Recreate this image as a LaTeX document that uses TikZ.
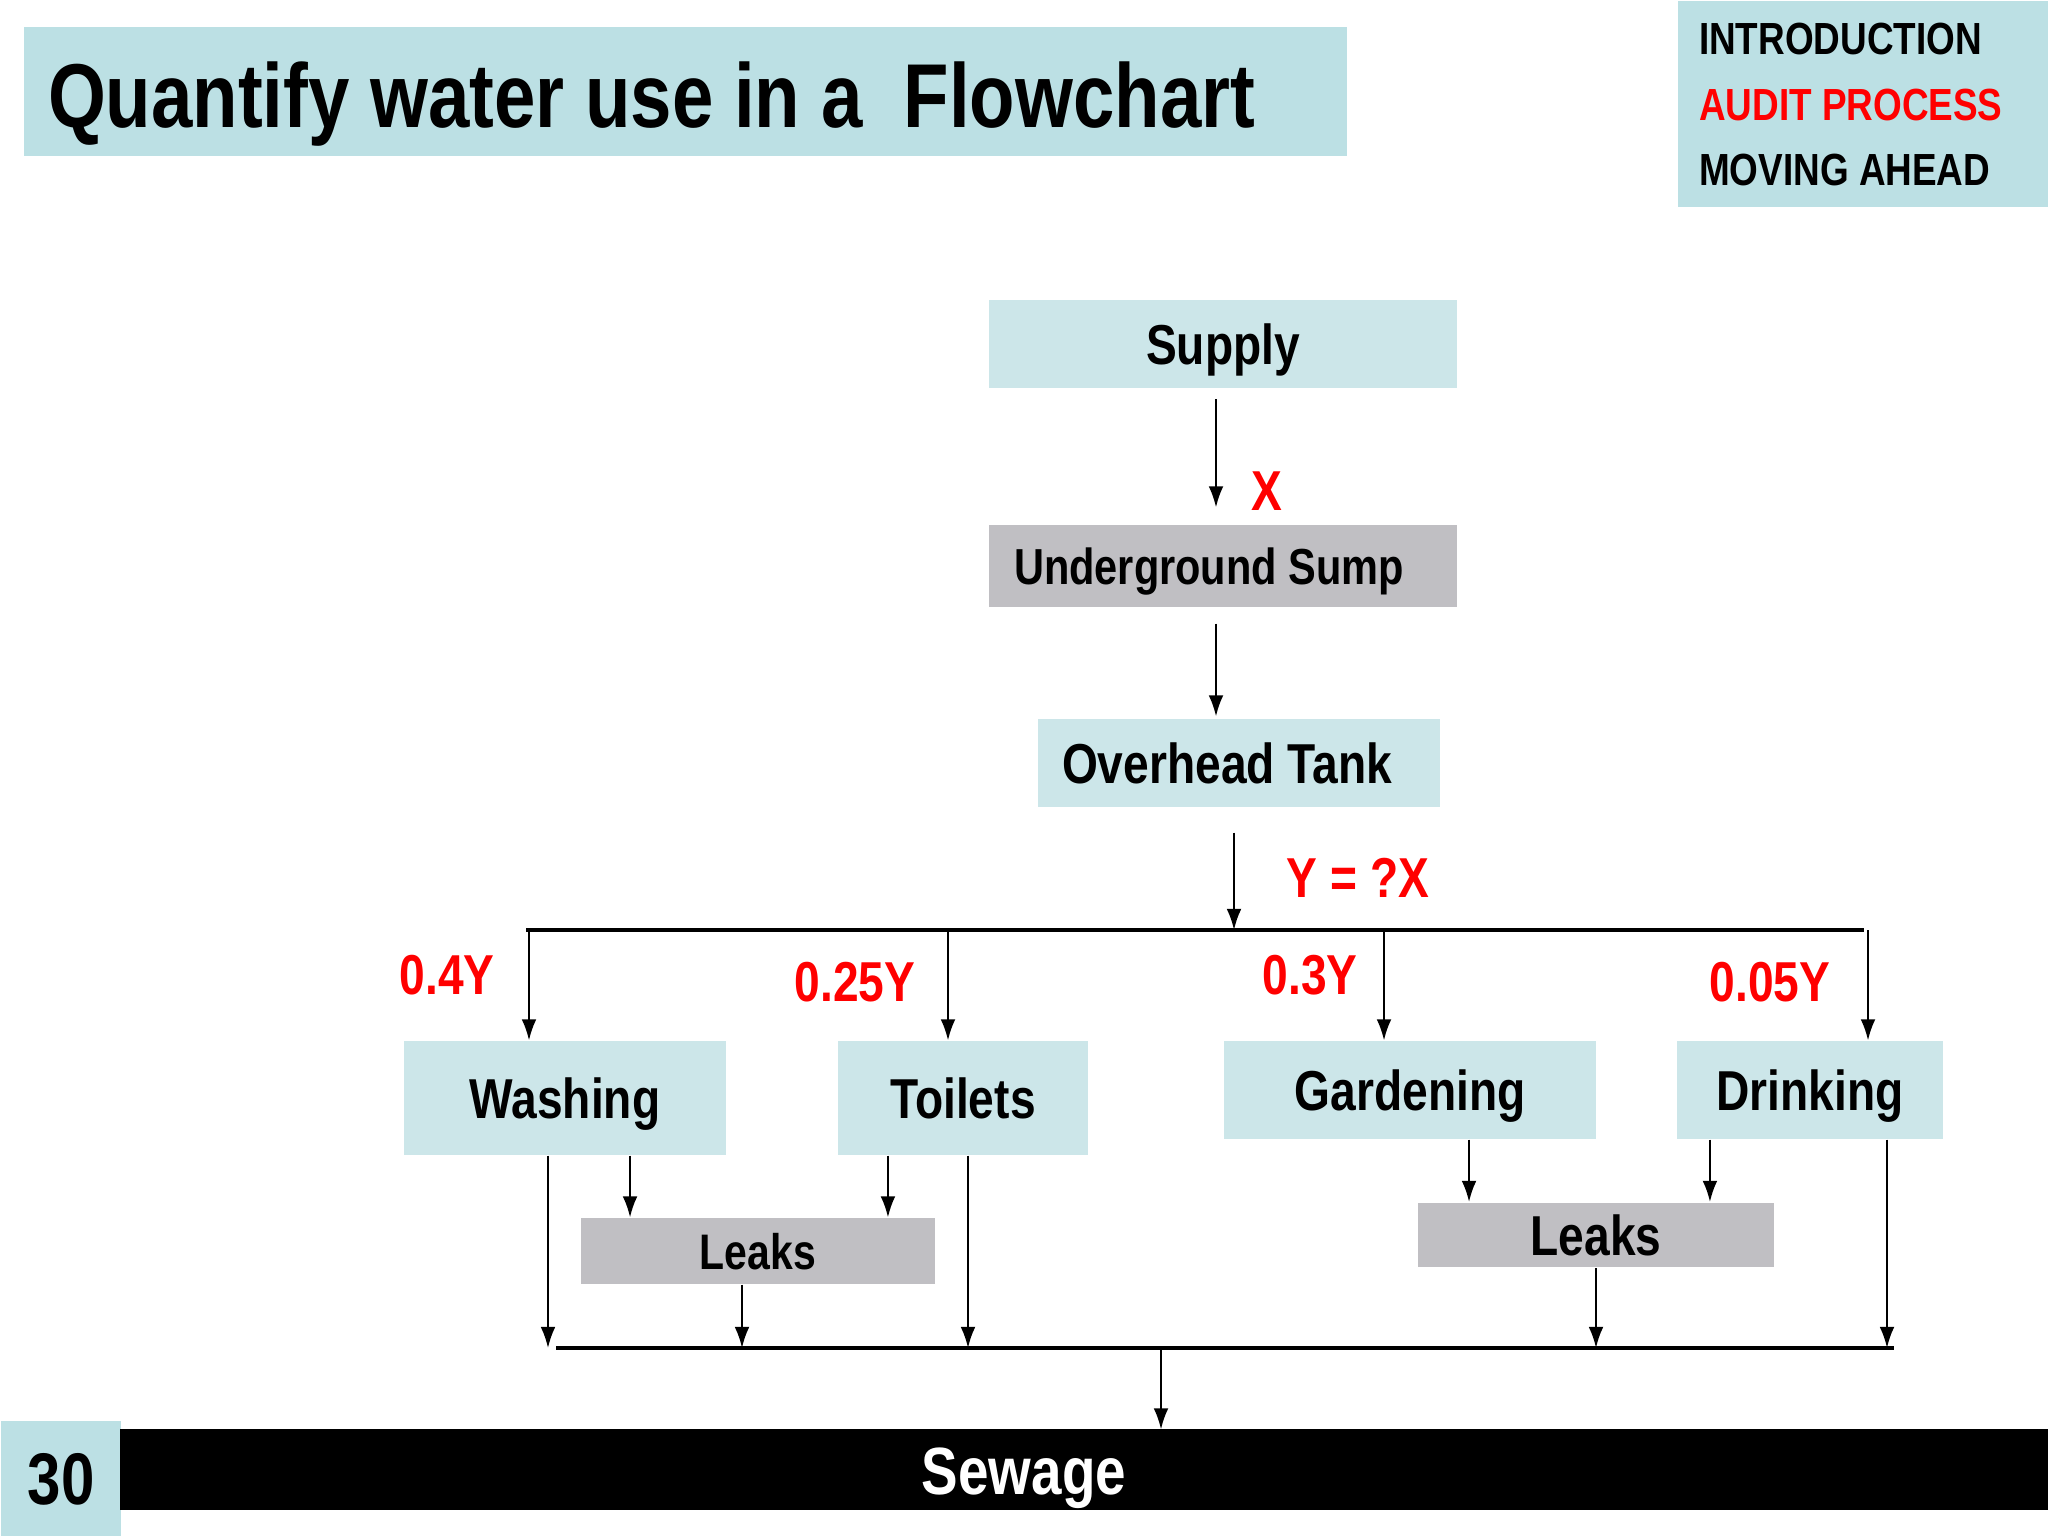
\documentclass[tikz,border=0pt]{standalone}
\usepackage{fontspec}
\setmainfont[FakeStretch=0.82]{Liberation Sans}
\usetikzlibrary{arrows.meta}
\definecolor{titleblue}{RGB}{188,224,228}
\definecolor{boxblue}{RGB}{204,230,233}
\definecolor{leakgrey}{RGB}{192,191,195}
\tikzstyle{usebox}=[fill=boxblue,inner sep=0pt,text depth=0pt,font=\bfseries\fontsize{16}{19}\selectfont]
\tikzstyle{leakbox}=[fill=leakgrey,inner sep=0pt,text depth=0pt,font=\bfseries\fontsize{16}{19}\selectfont]
\tikzstyle{share}=[text=red,inner sep=0pt,font=\bfseries\fontsize{16}{19}\selectfont]
\tikzstyle{navitem}=[anchor=base west,inner sep=0pt,font=\bfseries\fontsize{12.8}{15}\selectfont]
\tikzstyle{bus}=[line width=0.9pt]

\begin{document}
\begin{tikzpicture}[x=0.01cm, y=-0.01cm, line width=0.6pt, >={Latex[length=6pt,width=4.2pt]}]
\useasboundingbox (0,0) rectangle (2048,1536);
\fill[white] (0,0) rectangle (2048,1536);

% header
\node[fill=titleblue, anchor=north west, minimum width=13.22cm, minimum height=1.29cm, inner sep=0pt] (title) at (23,26) {};
\node[anchor=base west, inner sep=0pt, font=\bfseries\fontsize{25.8}{31}\selectfont] (titletext) at (47,127) {Quantify water use in a\ \ Flowchart};
\node[fill=titleblue, anchor=north west, minimum width=3.71cm, minimum height=2.06cm, inner sep=0pt] (nav) at (1677,0) {};
\node[navitem] (navintro) at (1698,54) {INTRODUCTION};
\node[navitem, text=red] (navaudit) at (1698,120) {AUDIT PROCESS};
\node[navitem] (navahead) at (1698,185) {MOVING AHEAD};
\node[fill=titleblue, anchor=north west, minimum width=1.2cm, minimum height=1.16cm, inner sep=0pt, font=\bfseries\fontsize{20.8}{24}\selectfont] (page) at (0,1420) {30};

\node[usebox, minimum width=4.67cm, minimum height=0.88cm] (supply) at (1223,344) {Supply};
\node[leakbox, minimum width=4.68cm, minimum height=0.81cm, font=\bfseries\fontsize{14.4}{17}\selectfont] (sump) at (1223,566) {Underground Sump\rule{0.28cm}{0pt}};
\node[usebox, minimum width=4.02cm, minimum height=0.87cm] (tank) at (1239,763) {Overhead Tank\rule{0.24cm}{0pt}};

\node[usebox, minimum width=3.22cm, minimum height=1.13cm] (washing) at (565,1098) {Washing};
\node[usebox, minimum width=2.5cm, minimum height=1.13cm] (toilets) at (963,1098) {Toilets};
\node[usebox, minimum width=3.71cm, minimum height=0.97cm] (gardening) at (1410,1090) {Gardening};
\node[usebox, minimum width=2.66cm, minimum height=0.97cm] (drinking) at (1810,1090) {Drinking};

\node[leakbox, minimum width=3.54cm, minimum height=0.65cm, font=\bfseries\fontsize{14.2}{17}\selectfont] (leaksA) at (758,1251) {Leaks};
\node[leakbox, minimum width=3.56cm, minimum height=0.64cm] (leaksB) at (1596,1235) {Leaks};

\fill[black] (120,1429) rectangle (2048,1510);
\node[text=white, minimum height=0.81cm, inner sep=0pt, text depth=0pt, font=\bfseries\fontsize{19}{23}\selectfont] (sewage) at (1024,1471) {Sewage};

\node[share] (lx) at (1267,491) {X};
\node[share] (ly) at (1358,878) {Y = ?X};
\node[share] (lwash) at (447,975) {0.4Y};
\node[share] (ltoil) at (855,982) {0.25Y};
\node[share] (lgard) at (1310,975) {0.3Y};
\node[share] (ldrink) at (1770,982) {0.05Y};

% supply chain
\coordinate (spine) at (1216,600);
\draw[->, shorten <=0.1cm, shorten >=0.17cm] (spine |- supply.south) -- (spine |- sump.north);
\draw[->, shorten <=0.16cm, shorten >=0.02cm] (spine |- sump.south) -- (spine |- tank.north);

% split bus
\coordinate (busAl) at (526,930);
\coordinate (busAr) at (1864,930);
\coordinate (busAc) at (1234,930);
\draw[bus] (busAl) -- (busAr);
\draw[->, shorten <=0.25cm] (busAc |- tank.south) -- (busAc);

\coordinate (bw) at (529,930);
\coordinate (bt) at (948,930);
\coordinate (bg) at (1384,930);
\coordinate (bd) at (1868,930);
\draw[->] (bw) -- (bw |- washing.north);
\draw[->] (bt) -- (bt |- toilets.north);
\draw[->] (bg) -- (bg |- gardening.north);
\draw[->] (bd) -- (bd |- drinking.north);

% to leaks
\draw[->] ([xshift=0.65cm]washing.south) -- ([xshift=0.65cm]washing.south |- leaksA.north);
\draw[->] ([xshift=-0.75cm]toilets.south) -- ([xshift=-0.75cm]toilets.south |- leaksA.north);
\draw[->] ([xshift=0.59cm]gardening.south) -- ([xshift=0.59cm]gardening.south |- leaksB.north);
\draw[->] ([xshift=-1cm]drinking.south) -- ([xshift=-1cm]drinking.south |- leaksB.north);

% collect bus
\coordinate (busBl) at (556,1348);
\coordinate (busBr) at (1894,1348);
\coordinate (busBc) at (1161,1348);
\draw[bus] (busBl) -- (busBr);

\coordinate (cw) at (548,1348);
\coordinate (cl) at (742,1348);
\coordinate (ct) at (968,1348);
\coordinate (cm) at (1596,1348);
\coordinate (cd) at (1887,1348);
\draw[->] (cw |- washing.south) -- (cw);
\draw[->] (cl |- leaksA.south) -- (cl);
\draw[->] (ct |- toilets.south) -- (ct);
\draw[->] (cm |- leaksB.south) -- (cm);
\draw[->] (cd |- drinking.south) -- (cd);

\draw[->] (busBc) -- (busBc |- sewage.north);

\end{tikzpicture}
\end{document}
